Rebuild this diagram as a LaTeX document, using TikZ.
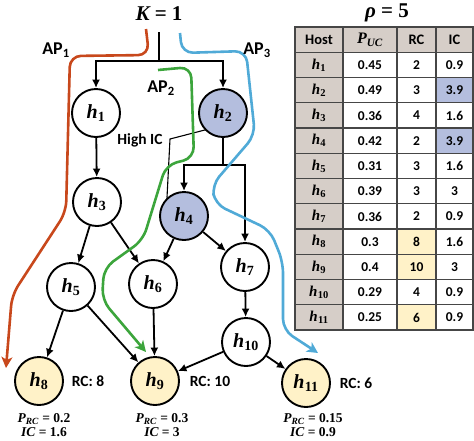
\documentclass[tikz,border=0pt]{standalone}
\usepackage[no-math]{fontspec}
\setmainfont{Carlito}
\newfontfamily\mserif{Liberation Serif}
\usetikzlibrary{arrows.meta}
\definecolor{apone}{RGB}{200,72,28}
\definecolor{aptwo}{RGB}{60,165,60}
\definecolor{apthree}{RGB}{80,170,215}
\definecolor{hiblue}{RGB}{180,190,222}
\definecolor{rcyellow}{RGB}{255,242,200}
\definecolor{hostgray}{RGB}{214,206,200}
\definecolor{tblline}{RGB}{70,70,70}
% bold italic variable with bold upright subscript
\newcommand\hvar[1]{{\mserif\bfseries\itshape h}\kern0.3pt\textsubscript{\mserif\bfseries #1}}
\newcommand\bit[1]{{\mserif\bfseries\itshape #1}}
\newcommand\bsub[1]{\textsubscript{\mserif\bfseries\itshape #1}}
\begin{document}
\begin{tikzpicture}[x=1pt,y=-1pt,
  host/.style={circle,draw=black,line width=1.9pt,minimum size=48pt,inner sep=0pt,fill=white,font=\fontsize{20}{22}\selectfont},
  edge/.style={line width=1.8pt,-{Latex[length=8.5pt,width=8pt]}},
  plain/.style={line width=1.8pt},
  apline/.style={line width=2.6pt,rounded corners=11pt,-{Stealth[length=11pt,width=11pt,inset=3pt]}},
  lbl/.style={font=\fontsize{15.5}{18}\selectfont\bfseries,inner sep=0pt},
  aplbl/.style={font=\fontsize{18}{20}\selectfont\bfseries,inner sep=0pt},
  stat/.style={font=\fontsize{13.5}{14.5}\selectfont\mserif\bfseries,align=center,inner sep=0pt},
  cell/.style={font=\fontsize{13.5}{15}\selectfont\bfseries,inner sep=0pt},
  tbl/.style={draw=tblline,line width=1.4pt}]
\useasboundingbox (0,0) rectangle (474,440);

% headings
\node[font=\fontsize{21}{24}\selectfont\mserif\bfseries,inner sep=0pt] (kone) at (159,14) {\bit{K} = 1};
\node[font=\fontsize{21}{24}\selectfont\mserif\bfseries,inner sep=0pt] (rho) at (387,13) {\bit{ρ} = 5};

% hosts
\node[host] (h1) at (96,113) {\hvar{1}};
\node[host,fill=hiblue] (h2) at (223,113) {\hvar{2}};
\node[host] (h3) at (97,202) {\hvar{3}};
\node[host,fill=hiblue] (h4) at (184,216) {\hvar{4}};
\node[host] (h5) at (71,287) {\hvar{5}};
\node[host] (h6) at (153,284) {\hvar{6}};
\node[host] (h7) at (245,267) {\hvar{7}};
\node[host,fill=rcyellow] (h8) at (39,381) {\hvar{8}};
\node[host,fill=rcyellow] (h9) at (155,381) {\hvar{9}};
\node[host] (h10) at (246,342) {\hvar{10}};
\node[host,fill=rcyellow] (h11) at (306,383) {\hvar{11}};

% top split
\coordinate (ktop) at (159,32);
\coordinate (ksplit) at (159,61);
\draw[plain] (ktop) -- (ksplit);
\draw[edge] (ksplit) -| (h1);
\draw[edge] (ksplit) -| (h2);
\coordinate (s2) at (223,165);
\draw[plain] (h2) -- (s2);
\draw[edge] (s2) -| (h4);
\draw[edge] (s2) -| (h7);

% edges
\draw[edge] (h1) -- (h3);
\draw[edge] (h3) -- (h5);
\draw[edge] (h3) -- (h6);
\draw[edge] (h4) -- (h6);
\draw[edge] (h4) -- (h7);
\draw[edge] (h5) -- (h8);
\draw[edge] (h5) -- (h9);
\draw[edge] (h6) -- (h9);
\draw[edge] (h7) -- (h10);
\draw[edge] (h10) -- (h9);
\draw[edge] (h10) -- (h11);

% High IC callout
\node[lbl] (hic) at (140,140) {High IC};
\coordinate (hicbend) at (170,139);
\draw[line width=1.1pt] (h2.223) -- (hicbend) -- (h4.133);

% RC labels
\node[lbl] (rc8) at (88,381) {RC: 8};
\node[lbl] (rc9) at (210,381) {RC: 10};
\node[lbl] (rc11) at (356,383) {RC: 6};

% stats
\node[stat] (st8) at (44,425) {\bit{P}\bsub{RC} = 0.2\\\bit{IC} = 1.6};
\node[stat] (st9) at (162,425) {\bit{P}\bsub{RC} = 0.3\\\bit{IC} = 3};
\node[stat] (st11) at (313,425) {\bit{P}\bsub{RC} = 0.15\\\bit{IC} = 0.9};

% attack paths
\draw[apline,apone] (146,29) -- (149,55) -- (70,56) -- (66,212) -- (12,295) -- (6,368);
\draw[apline,aptwo] (158,70) -- (191,67) -- (194,158) -- (166,165) -- (143,240) -- (104,268) -- (102,300) -- (146,352);
\draw[apline,apthree] (180,33) -- (182,53) -- (246,51) -- (255,135) -- (212,185) -- (215,204) -- (270,230) -- (283,262) -- (283,330) -- (318,353);
\node[aplbl] (ap1) at (56,50) {AP\textsubscript{1}};
\node[aplbl] (ap2) at (161,88) {AP\textsubscript{2}};
\node[aplbl] (ap3) at (257,50) {AP\textsubscript{3}};

% table fills
\fill[hostgray] (295,27) rectangle (473,52.25);
\fill[hostgray] (295,27) rectangle (343,330);
\fill[hiblue] (436,77.5) rectangle (473,102.75);
\fill[hiblue] (436,128) rectangle (473,153.25);
\fill[rcyellow] (397,229) rectangle (436,254.25);
\fill[rcyellow] (397,254.25) rectangle (436,279.5);
\fill[rcyellow] (397,304.75) rectangle (436,330);
% table grid
\foreach \yy in {52.25,77.5,102.75,128,153.25,178.5,203.75,229,254.25,279.5,304.75}
  \draw[tbl] (295,\yy) -- (473,\yy);
\foreach \xx in {343,397,436}
  \draw[tbl] (\xx,27) -- (\xx,330);
\draw[tbl] (295,27) rectangle (473,330);

% table header
\node[cell,font=\fontsize{14.5}{16}\selectfont\bfseries] (th1) at (319,39.6) {Host};
\node[cell,font=\fontsize{16}{17}\selectfont] (th2) at (370,39.6) {\bit{P}\bsub{UC}};
\node[cell,font=\fontsize{14.5}{16}\selectfont\bfseries] (th3) at (416.5,39.6) {RC};
\node[cell,font=\fontsize{14.5}{16}\selectfont\bfseries] (th4) at (454.5,39.6) {IC};

% table rows
\foreach \i/\p/\r/\c in {1/0.45/2/0.9, 2/0.49/3/3.9, 3/0.36/4/1.6, 4/0.42/2/3.9, 5/0.31/3/1.6, 6/0.39/3/3, 7/0.36/2/0.9, 8/0.3/8/1.6, 9/0.4/10/3, 10/0.29/4/0.9, 11/0.25/6/0.9}{
  \pgfmathsetmacro\yc{27+25.25*\i+12.7}
  \node[cell,font=\fontsize{15}{16}\selectfont] (tr\i a) at (319,\yc) {\hvar{\i}};
  \node[cell] (tr\i b) at (370,\yc) {\p};
  \node[cell] (tr\i c) at (416.5,\yc) {\r};
  \node[cell] (tr\i d) at (454.5,\yc) {\c};
}
\end{tikzpicture}
\end{document}
